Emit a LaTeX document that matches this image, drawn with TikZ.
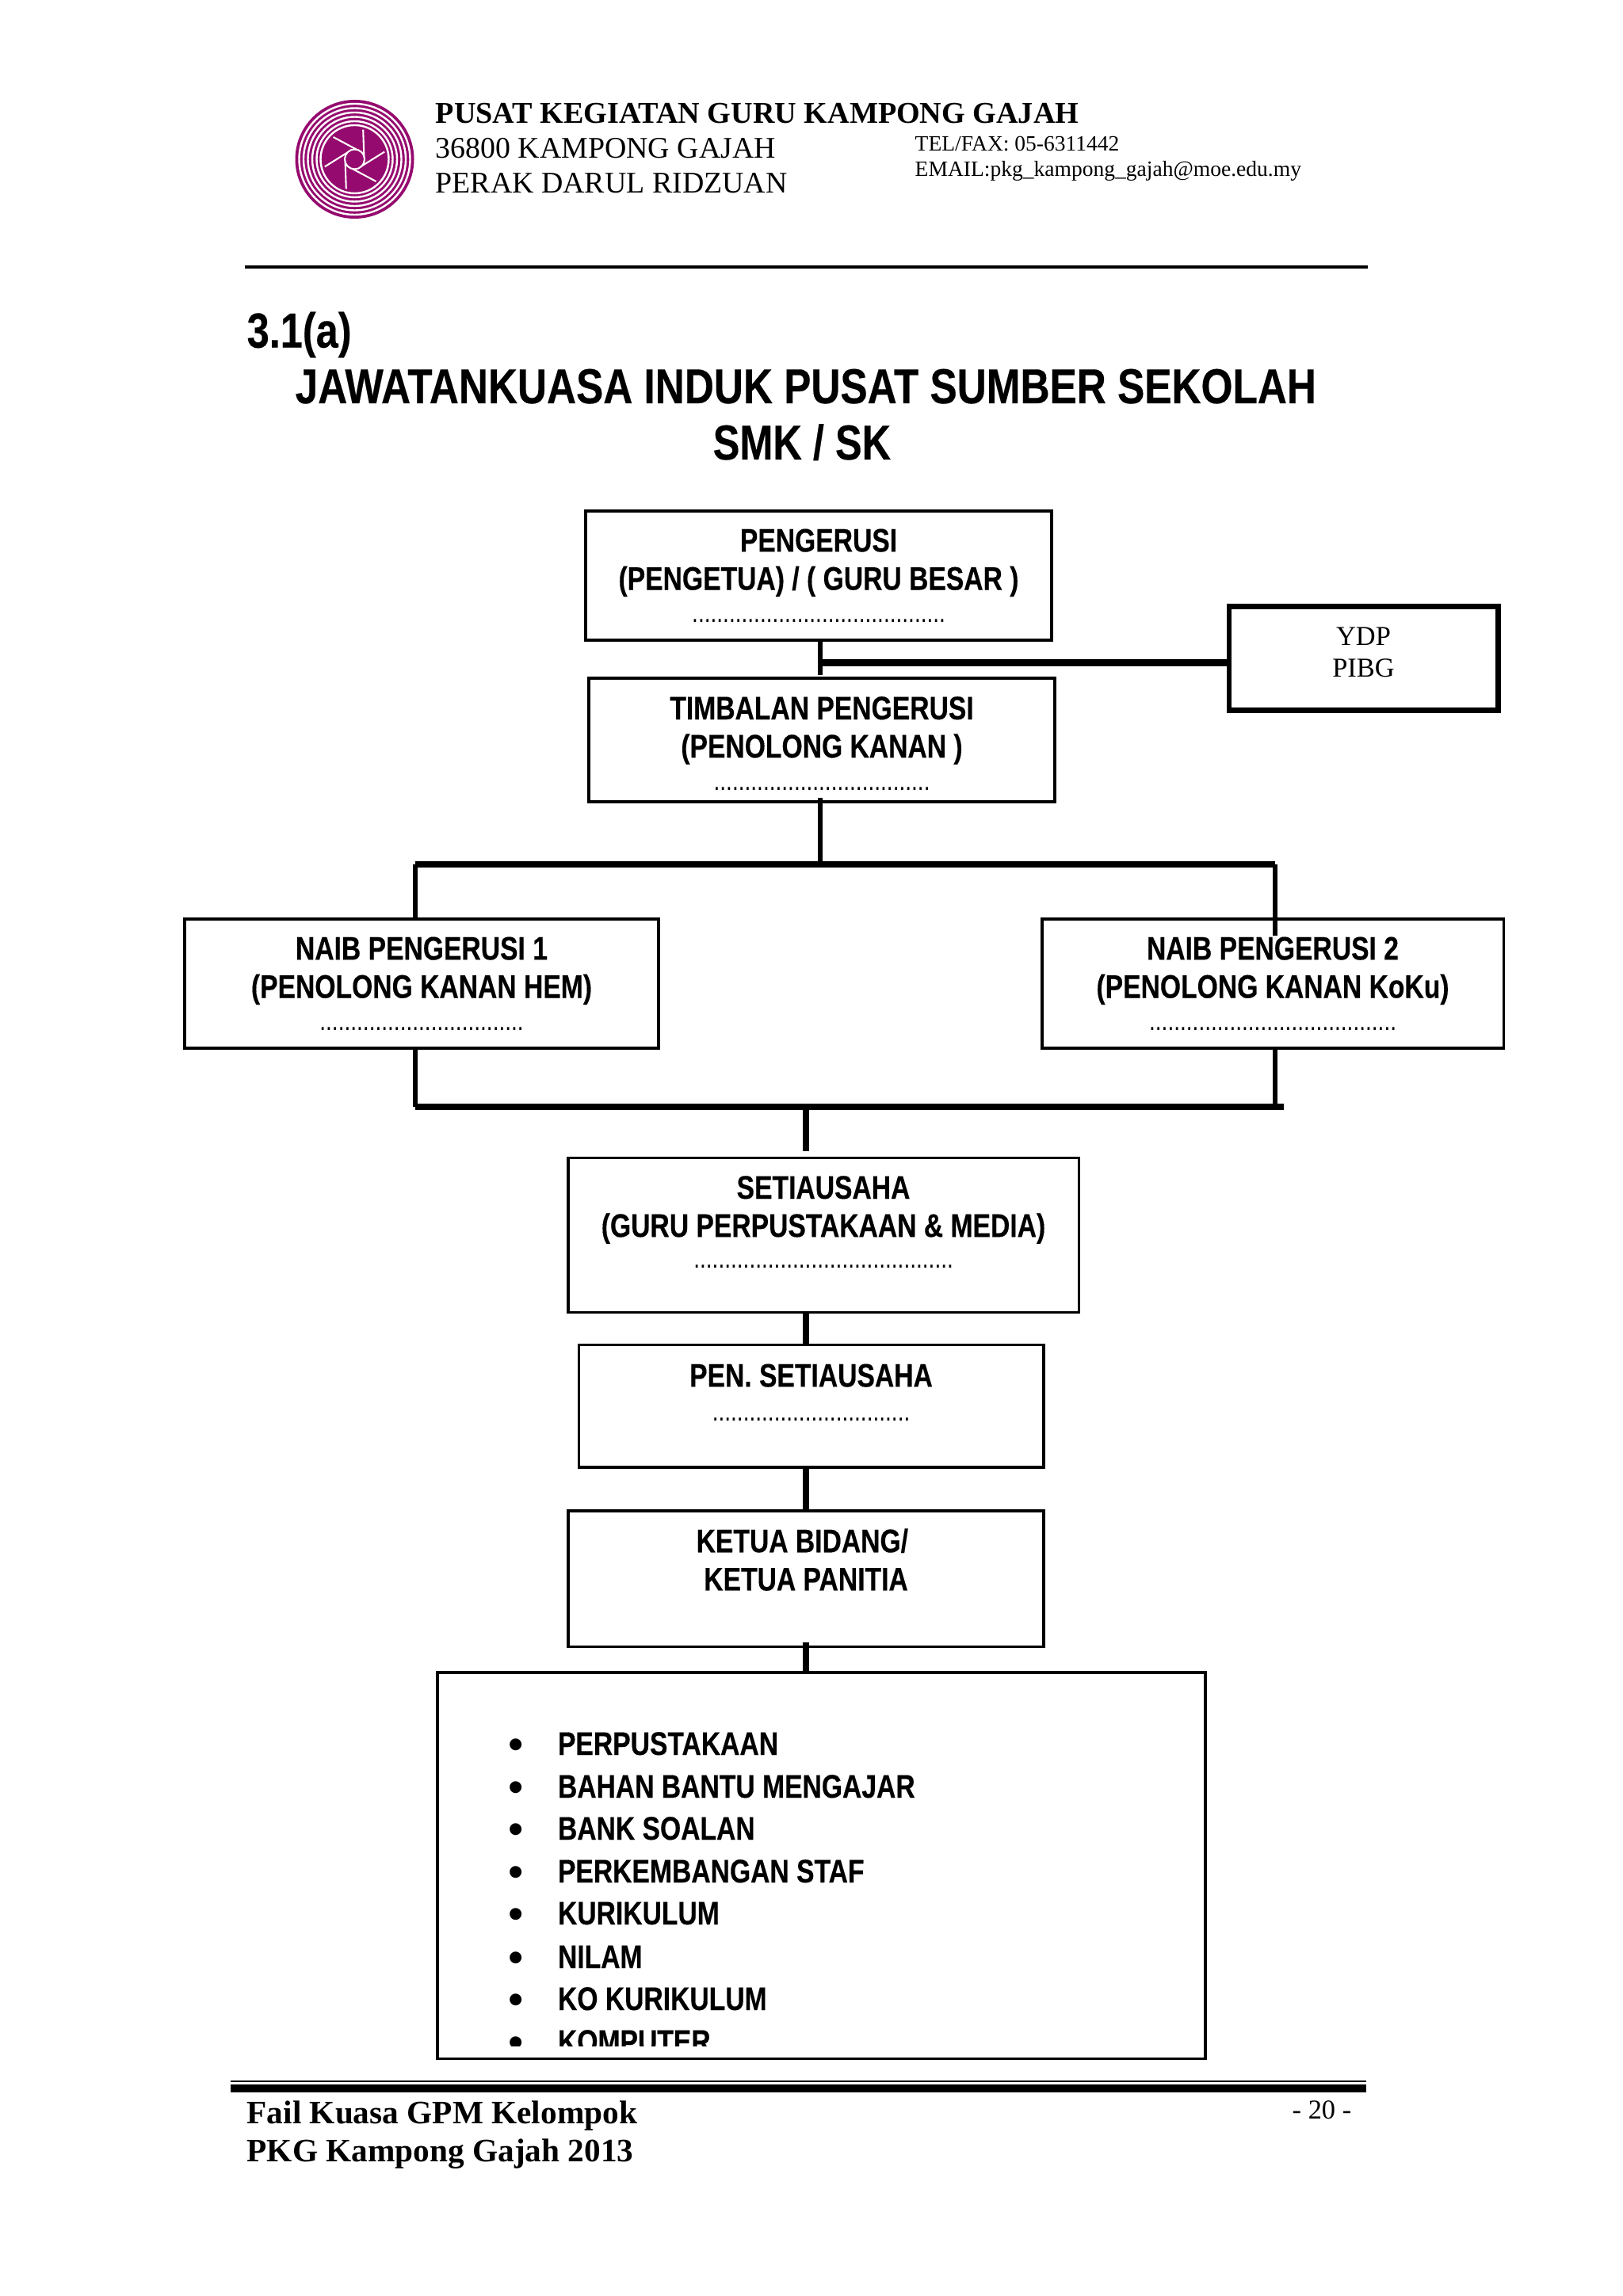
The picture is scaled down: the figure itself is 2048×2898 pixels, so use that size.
\documentclass[tikz,border=0pt]{standalone}
\usepackage{fontspec}
\usetikzlibrary{positioning, calc}
\setmainfont{Liberation Serif}
\newfontfamily\boxfont[FakeStretch=0.815, BoldFeatures={FakeBold=0.3}]{Liberation Sans}
\newfontfamily\titlefont[FakeStretch=0.828, BoldFeatures={FakeBold=0.3}]{Liberation Sans}
\newfontfamily\bulletfont{Liberation Sans}
\definecolor{logopurple}{HTML}{950A6E}
\tikzset{block/.style = {draw, line width=0.9pt, align=center, inner sep=0pt, font=\boxfont\bfseries\fontsize{12}{14}\selectfont}}
\tikzset{heavyblock/.style = {draw, line width=2pt, align=center, inner sep=0pt, font=\fontsize{10}{11.4}\selectfont}}
\tikzset{link/.style = {line width=1.7pt}}
\tikzset{heavylink/.style = {line width=2.2pt}}
\tikzset{stemlink/.style = {line width=2.3pt}}
\tikzset{headtext/.style = {anchor=base west, inner sep=0pt, font=\fontsize{11}{13}\selectfont}}
\tikzset{smalltext/.style = {anchor=base west, inner sep=0pt, font=\fontsize{8}{10}\selectfont}}
\tikzset{boldtext/.style = {anchor=base west, inner sep=0pt, font=\bfseries\fontsize{12}{14}\selectfont}}
\tikzset{titletext/.style = {anchor=base west, inner sep=0pt, font=\boxfont\bfseries\fontsize{18}{20}\selectfont}}
\tikzset{listitem/.style = {anchor=base west, inner sep=0pt, font=\boxfont\bfseries\fontsize{12}{14}\selectfont}}
\newcommand{\bulletrow}[1]{\makebox[18.1pt][l]{\raisebox{-1.7pt}{\bulletfont\mdseries\fontsize{16}{14}\selectfont\textbullet}}#1}
\newcommand{\dotrow}[1]{{\mdseries\fontsize{10}{14}\selectfont #1}}

\begin{document}
\begin{tikzpicture}[x=0.2905pt, y=-0.2905pt]
			\useasboundingbox (0,0) rectangle (2048,2898);
			% Logo
			\coordinate (logo) at (447.5,201);
			\fill[logopurple] (logo) circle[radius=75];
			\draw[white, line width=0.7pt] (logo) circle[radius=70] (logo) circle[radius=64.5] (logo) circle[radius=59] (logo) circle[radius=53.5] (logo) circle[radius=48] (logo) circle[radius=43];
			\draw[white, line width=0.6pt] (logo) circle[radius=12.5];
			\draw[white, line width=0.6pt] ($(logo)+(-27,-28)$) -- ($(logo)+(3,-12)$) ($(logo)+(10.7,-37.4)$) -- ($(logo)+(11.9,-3.4)$) ($(logo)+(37.7,-9.4)$) -- ($(logo)+(8.9,8.6)$) ($(logo)+(27,28)$) -- ($(logo)+(-3,12)$) ($(logo)+(-10.7,37.4)$) -- ($(logo)+(-11.9,3.4)$) ($(logo)+(-37.7,9.4)$) -- ($(logo)+(-8.9,-8.6)$);
			% Letterhead
			\node [boldtext, font=\bfseries\fontsize{11.08}{13}\selectfont] (head-name) at (549,156) {PUSAT KEGIATAN GURU KAMPONG GAJAH};
			\node [headtext] (head-town) at (549,200) {36800 KAMPONG GAJAH};
			\node [headtext] (head-state) at (549,244) {PERAK DARUL RIDZUAN};
			\node [smalltext] (head-tel) at (1154,191) {TEL/FAX: 05-6311442};
			\node [smalltext] (head-mail) at (1154,223) {EMAIL:pkg\_kampong\_gajah@moe.edu.my};
			\coordinate (rule-left) at (309,337);
			\coordinate (rule-right) at (1726,337);
			\draw[line width=0.9pt] (rule-left) -- (rule-right);
			% Title
			\node [titletext] (title-num) at (311,438.6) {3.1(a)};
			\node [titletext, font=\titlefont\bfseries\fontsize{18}{20}\selectfont] (title-main) at (372,509) {JAWATANKUASA INDUK PUSAT SUMBER SEKOLAH};
			\node [titletext] (title-sub) at (899,580) {SMK / SK};
			% Chair
			\node [block, minimum width=170.8pt, minimum height=47.35pt] (pengerusi) at (1033,726.5) {PENGERUSI\\(PENGETUA) / ( GURU BESAR )\\[-2.1pt]\dotrow{.........................................}};
			% YDP
			\node [heavyblock, minimum width=98.5pt, minimum height=38.3pt] (ydp) at (1720.5,831) {\rule{0pt}{7.5pt}YDP\\PIBG\\[-6pt]\mbox{}};
			\coordinate (ydp-stub) at (1035,852);
			\coordinate (ydp-join) at (1038,836.5);
			\draw[link] (pengerusi.south -| ydp-stub) -- (ydp-stub);
			\draw[line width=2.9pt] (ydp-join) -- (ydp-join -| ydp.west);
			% Deputy
			\node [block, minimum width=170.8pt, minimum height=45.3pt] (timbalan) at (1037,934) {\rule{0pt}{10.8pt}TIMBALAN PENGERUSI\\(PENOLONG KANAN )\\[-2.1pt]\dotrow{...................................}};
			% Vice chairs
			\node [block, minimum width=173.7pt, minimum height=47.35pt] (naib-1) at (532,1241.5) {NAIB PENGERUSI 1\\(PENOLONG KANAN HEM)\\[-2.1pt]\dotrow{.................................}};
			\node [block, minimum width=169.1pt, minimum height=47.35pt] (naib-2) at (1606,1241.5) {NAIB PENGERUSI 2\\(PENOLONG KANAN KoKu)\\[-2.1pt]\dotrow{........................................}};
			\coordinate (bar-top-left) at (524,1091);
			\coordinate (bar-top-right) at (1609,1091);
			\coordinate (timbalan-stub) at (1035,1007);
			\coordinate (naib-2-stub) at (1609,1181);
			\draw[link] (timbalan-stub) -- (timbalan-stub |- bar-top-left);
			\draw[heavylink] (bar-top-left) -- (bar-top-right);
			\draw[link] (bar-top-left) -- (bar-top-left |- naib-1.north);
			\draw[link] (bar-top-right) -- (naib-2-stub);
			\coordinate (bar-low-left) at (524,1397);
			\coordinate (bar-low-right) at (1620,1397);
			\draw[link] (bar-low-left |- naib-1.south) -- (bar-low-left);
			\draw[link] (bar-top-right |- naib-2.south) -- (bar-top-right |- bar-low-right);
			\draw[heavylink] (bar-low-left) -- (bar-low-right);
			% Secretary
			\node [block, minimum width=187.1pt, minimum height=56.9pt] (setia) at (1039,1559) {SETIAUSAHA\\(GURU PERPUSTAKAAN \& MEDIA)\\[-2.7pt]\dotrow{..........................................}\\[-4.2pt]\mbox{}};
			\coordinate (setia-stub) at (1017,1453);
			\draw[stemlink] (setia-stub |- bar-low-left) -- (setia-stub);
			% Assistant secretary
			\node [block, minimum width=170.5pt, minimum height=45pt] (pen-setia) at (1023.5,1774.5) {PEN. SETIAUSAHA\\[-1.6pt]\dotrow{................................}\\[-4pt]\mbox{}};
			\draw[stemlink] (setia-stub |- setia.south) -- (setia-stub |- pen-setia.north);
			% Heads
			\node [block, minimum width=174.3pt, minimum height=49.7pt] (ketua) at (1017,1992.5) {KETUA BIDANG/\hspace*{2.7pt}\\KETUA PANITIA\\\mbox{}};
			\draw[stemlink] (setia-stub |- pen-setia.south) -- (setia-stub |- ketua.north);
			% Fields
			\node [block, minimum width=281.5pt, minimum height=141.5pt] (fields) at (1036.5,2354.5) {};
			\coordinate (ketua-stub) at (1017,2073);
			\draw[stemlink] (ketua-stub) -- (ketua-stub |- fields.north);
			\coordinate (clip-low) at (641,2582);
			\begin{scope}
				\clip (clip-low) rectangle (1500,2120);
				\node [listitem] (item-1) at (641,2215) {\bulletrow{PERPUSTAKAAN}};
				\node [listitem] (item-2) at (641,2269) {\bulletrow{BAHAN BANTU MENGAJAR}};
				\node [listitem] (item-3) at (641,2322) {\bulletrow{BANK SOALAN}};
				\node [listitem] (item-4) at (641,2376) {\bulletrow{PERKEMBANGAN STAF}};
				\node [listitem] (item-5) at (641,2429) {\bulletrow{KURIKULUM}};
				\node [listitem] (item-6) at (641,2484) {\bulletrow{NILAM}};
				\node [listitem] (item-7) at (641,2537) {\bulletrow{KO KURIKULUM}};
				\node [listitem] (item-8) at (641,2591) {\bulletrow{KOMPUTER}};
			\end{scope}
			% Footer
			\coordinate (foot-left) at (291,2627);
			\coordinate (foot-right) at (1724,2627);
			\draw[line width=0.6pt] (foot-left) -- (foot-right);
			\draw[line width=2.9pt] ($(foot-left)+(0,9)$) -- ($(foot-right)+(0,9)$);
			\node [boldtext] (foot-file) at (311,2680) {Fail Kuasa GPM Kelompok};
			\node [boldtext] (foot-year) at (311,2728) {PKG Kampong Gajah 2013};
			\node [headtext, font=\fontsize{10}{12}\selectfont] (foot-page) at (1630,2674) {- 20 -};
		\end{tikzpicture}
\end{document}
